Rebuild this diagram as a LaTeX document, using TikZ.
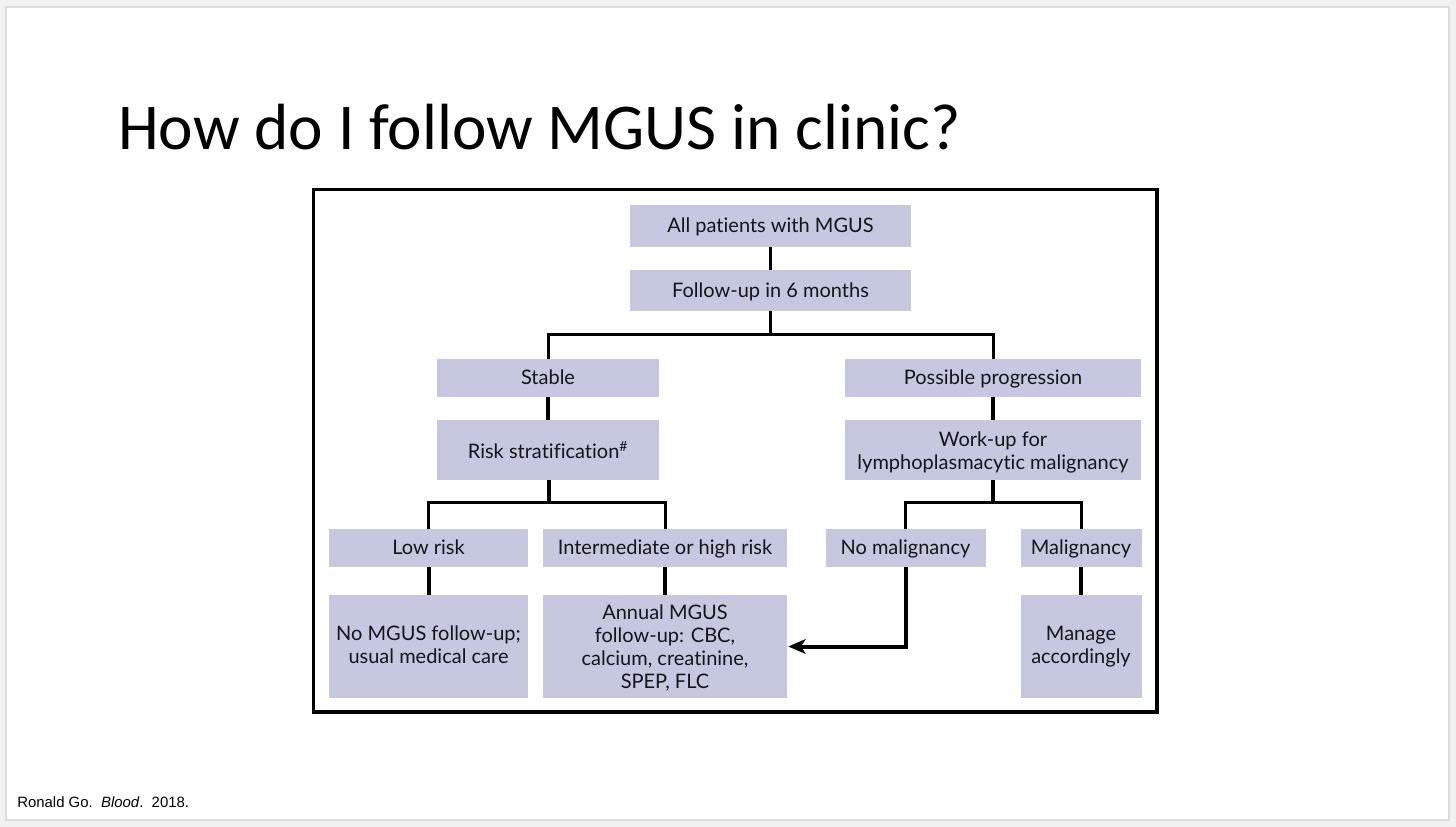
\documentclass[tikz,border=0pt]{standalone}
\usepackage{fontspec}
\setmainfont{Lato}[Ligatures=NoCommon]
\newfontfamily\titlefont{Carlito}
\newfontfamily\notefont{Liberation Sans}
\usetikzlibrary{arrows.meta}
\definecolor{boxfill}{HTML}{C5C8DE}
\definecolor{boxtext}{HTML}{15151F}
\definecolor{slidegray}{HTML}{F1F1F1}
\definecolor{slideedge}{HTML}{DCDCDC}
\newcommand{\firststrut}[1]{\rule{0pt}{#1}}
\tikzset{
  x=0.75pt,y=-0.75pt,
  box/.style 2 args={fill=boxfill,draw=none,inner sep=0pt,align=center,text=boxtext,
    font=\fontsize{15pt}{17.25pt}\selectfont,
    execute at begin node=\rule{0pt}{12pt},execute at end node=\rule[-3pt]{0pt}{3pt},
    minimum width=#1*0.75pt,minimum height=#2*0.75pt},
  link/.style={line width=2.25pt,draw=black},
  mid link/.style={line width=2.5pt,draw=black},
  thick link/.style={line width=3pt,draw=black},
  pointer/.style={thick link,-{Stealth[length=13pt,width=11pt,inset=3.5pt]}},
}
\begin{document}
\begin{tikzpicture}
\useasboundingbox (0,0) rectangle (1456,827);
\fill[slidegray] (0,0) rectangle (1456,827);
\filldraw[fill=white,draw=slideedge,line width=1.2pt] (6,7) rectangle (1449,820);
\node[anchor=base west,inner sep=0pt,font=\titlefont\fontsize{49pt}{50pt}\selectfont] (title) at (118,150) {How do I follow MGUS in clinic?};
\draw[line width=2.4pt] (313.5,189.5) rectangle (1157,712);
\node[box={281}{42}] (all) at (770.5,226) {\firststrut{13.5pt}All patients with MGUS};
\node[box={281}{41}] (follow) at (770.5,290.5) {\firststrut{13.5pt}Follow-up in 6 months};
\node[box={222}{38}] (stable) at (548,378) {Stable};
\node[box={222}{60}] (risk) at (548,450) {\firststrut{15pt}Risk stratification\textsuperscript{\#}};
\node[box={296}{38}] (possible) at (993,378) {Possible progression};
\node[box={296}{60}] (work) at (993,450) {\firststrut{15pt}Work-up for\\lymphoplasmacytic malignancy};
\node[box={199}{38}] (low) at (428.5,548) {Low risk};
\node[box={244}{38}] (inter) at (665,548) {Intermediate or high risk};
\node[box={160}{38}] (nomal) at (905.5,548) {No malignancy};
\node[box={121}{38}] (mal) at (1081,548) {Malignancy};
\node[box={199}{103}] (nofollow) at (428.5,646.5) {No MGUS follow-up;\\usual medical care};
\node[box={244}{103}] (annual) at (665,646.5) {\firststrut{13.5pt}Annual MGUS\\follow-up: CBC,\\calcium, creatinine,\\SPEP, FLC};
\node[box={121}{103}] (manage) at (1081,646.5) {Manage\\accordingly};
\node[anchor=base west,inner sep=0pt,font=\notefont\fontsize{11.2pt}{12pt}\selectfont] (note) at (17,807) {Ronald Go.\ \ \textit{Blood}.\ \ 2018.};
\coordinate (topbus) at (770.5,334);
\coordinate (leftbus) at (549,502);
\coordinate (rightbus) at (993,502);
\draw[link] (all) -- (follow);
\draw[link] (follow) -- (topbus);
\draw[link] (stable.north) |- (topbus) -| (possible.north);
\draw[mid link] (stable) -- (risk);
\draw[mid link] (possible) -- (work);
\draw[mid link] (risk.south -| leftbus) -- (leftbus);
\draw[link] (low.north) |- (leftbus) -| (inter.north);
\draw[mid link] (work) -- (rightbus);
\draw[link] (nomal.north) |- (rightbus) -| (mal.north);
\draw[thick link] (low) -- (nofollow);
\draw[mid link] (inter) -- (annual);
\draw[thick link] (mal) -- (manage);
\draw[pointer] (nomal.south) |- ([xshift=0.75pt]annual.east);
\end{tikzpicture}
\end{document}
